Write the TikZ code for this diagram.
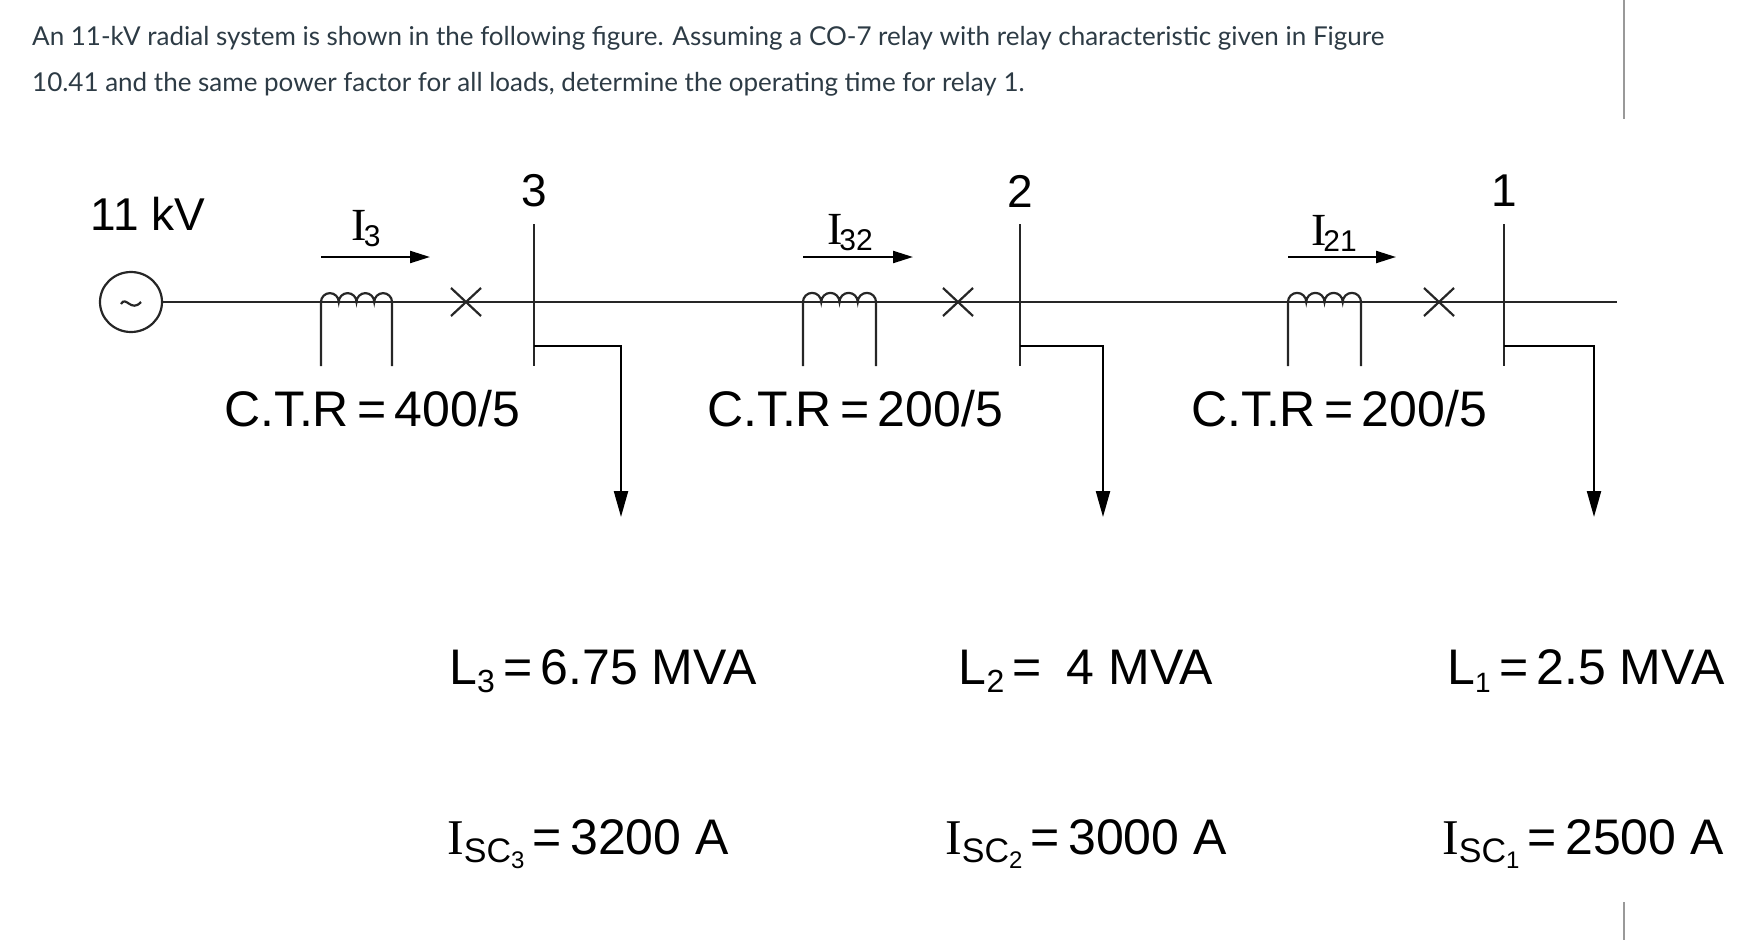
\documentclass[tikz,border=0pt]{standalone}
\usepackage{fontspec}
\setmainfont{Liberation Sans}
\newfontfamily\latofont{Lato}
\newfontfamily\serI{Liberation Serif}
\usetikzlibrary{arrows.meta,shapes.geometric}
\definecolor{qtext}{HTML}{2D3B45}
\begin{document}
\begin{tikzpicture}[x=1pt,y=-1pt,
  wire/.style={line width=2.2pt,black!85},
  lbl/.style={font=\fontsize{46}{50}\selectfont,inner sep=0},
  big/.style={font=\fontsize{50}{54}\selectfont,inner sep=0},
  cur/.style={line width=2.2pt,-{Triangle[length=20pt,width=12pt]}},
  load/.style={line width=2.2pt,-{Triangle[length=26pt,width=14pt]}},
  qtxt/.style={font=\latofont\fontsize{26}{30}\selectfont,text=qtext,anchor=base west,inner sep=0}]
\useasboundingbox (0,0) rectangle (1762,940);
\node[qtxt] (q1) at (32,45) {An 11-kV radial system is shown in the following figure. Assuming a CO-7 relay with relay characteristic given in Figure};
\node[qtxt] (q2) at (32,91) {10.41 and the same power factor for all loads, determine the operating time for relay 1.};
\draw[line width=2pt,black!40] (1624,0) -- (1624,119) (1624,902) -- (1624,940);
% generator
\node[draw,wire,ellipse,minimum width=62pt,minimum height=60pt,inner sep=0] (g) at (131,302) {};
\draw[wire] (121,304) .. controls (126,295) and (131,313) .. (141,302);
\node[lbl] (kv) at (148,214) {11 kV};
\coordinate (e) at (1617,302);
\draw[wire] (g.east) -- (e);
% CTs, breakers, buses
\foreach \n/\a/\b/\xb/\bus/\ld/\lab in {3/321/392/466/534/621/3, 2/803/876/958/1020/1103/2, 1/1288/1361/1439/1504/1594/1}{
  \draw[wire] (\a,366) -- (\a,302) foreach \k in {0,1,2,3} {arc[start angle=180,end angle=0,radius=({(\b-\a)/8}pt)]} -- (\b,366);
  \draw[wire] (\xb-15,288) -- (\xb+15,316) (\xb-15,316) -- (\xb+15,288);
  \coordinate (bt\n) at (\bus,224);
  \coordinate (bb\n) at (\bus,366);
  \draw[wire] (bt\n) -- (bb\n);
  \node[lbl] (bl\n) at (\bus,191) {\lab};
  \coordinate (lo\n) at (\ld,517);
  \draw[load] (\bus,346) -| (lo\n);
}
% current arrows
\coordinate (i3a) at (321,257); \coordinate (i3b) at (430,257);
\draw[cur] (i3a) -- (i3b);
\node[lbl] (i3) at (366,229) {\serI I\kern-3pt\raisebox{-6pt}{\rmfamily\fontsize{30}{30}\selectfont 3}};
\coordinate (i32a) at (803,257); \coordinate (i32b) at (913,257);
\draw[cur] (i32a) -- (i32b);
\node[lbl] (i32) at (850,233) {\serI I\kern-3pt\raisebox{-6pt}{\rmfamily\fontsize{30}{30}\selectfont 32}};
\coordinate (i21a) at (1288,257); \coordinate (i21b) at (1396,257);
\draw[cur] (i21a) -- (i21b);
\node[lbl] (i21) at (1334,233) {\serI I\kern-3pt\raisebox{-6pt}{\rmfamily\fontsize{30}{30}\selectfont 21}};
% CTR labels
\node[big] (c3) at (372,409) {C.T.R\,=\,400/5};
\node[big] (c2) at (855,409) {C.T.R\,=\,200/5};
\node[big] (c1) at (1339,409) {C.T.R\,=\,200/5};
% loads
\node[big] (l3) at (603,671) {L\raisebox{-8pt}{\fontsize{32}{32}\selectfont 3}\,=\,6.75 MVA};
\node[big] (l2) at (1086,671) {L\raisebox{-8pt}{\fontsize{32}{32}\selectfont 2}\,=\,\,\,4 MVA};
\node[big] (l1) at (1586,671) {L\raisebox{-8pt}{\fontsize{28}{28}\selectfont 1}\,=\,2.5 MVA};
% short-circuit currents
\node[big] (s3) at (588,844) {{\serI I}\raisebox{-8pt}{\fontsize{34}{34}\selectfont SC\raisebox{-6pt}{\fontsize{24}{24}\selectfont 3}}\,=\,3200 A};
\node[big] (s2) at (1086,844) {{\serI I}\raisebox{-8pt}{\fontsize{34}{34}\selectfont SC\raisebox{-6pt}{\fontsize{24}{24}\selectfont 2}}\,=\,3000 A};
\node[big] (s1) at (1583,844) {{\serI I}\raisebox{-8pt}{\fontsize{34}{34}\selectfont SC\raisebox{-6pt}{\fontsize{24}{24}\selectfont 1}}\,=\,2500 A};
\end{tikzpicture}
\end{document}
